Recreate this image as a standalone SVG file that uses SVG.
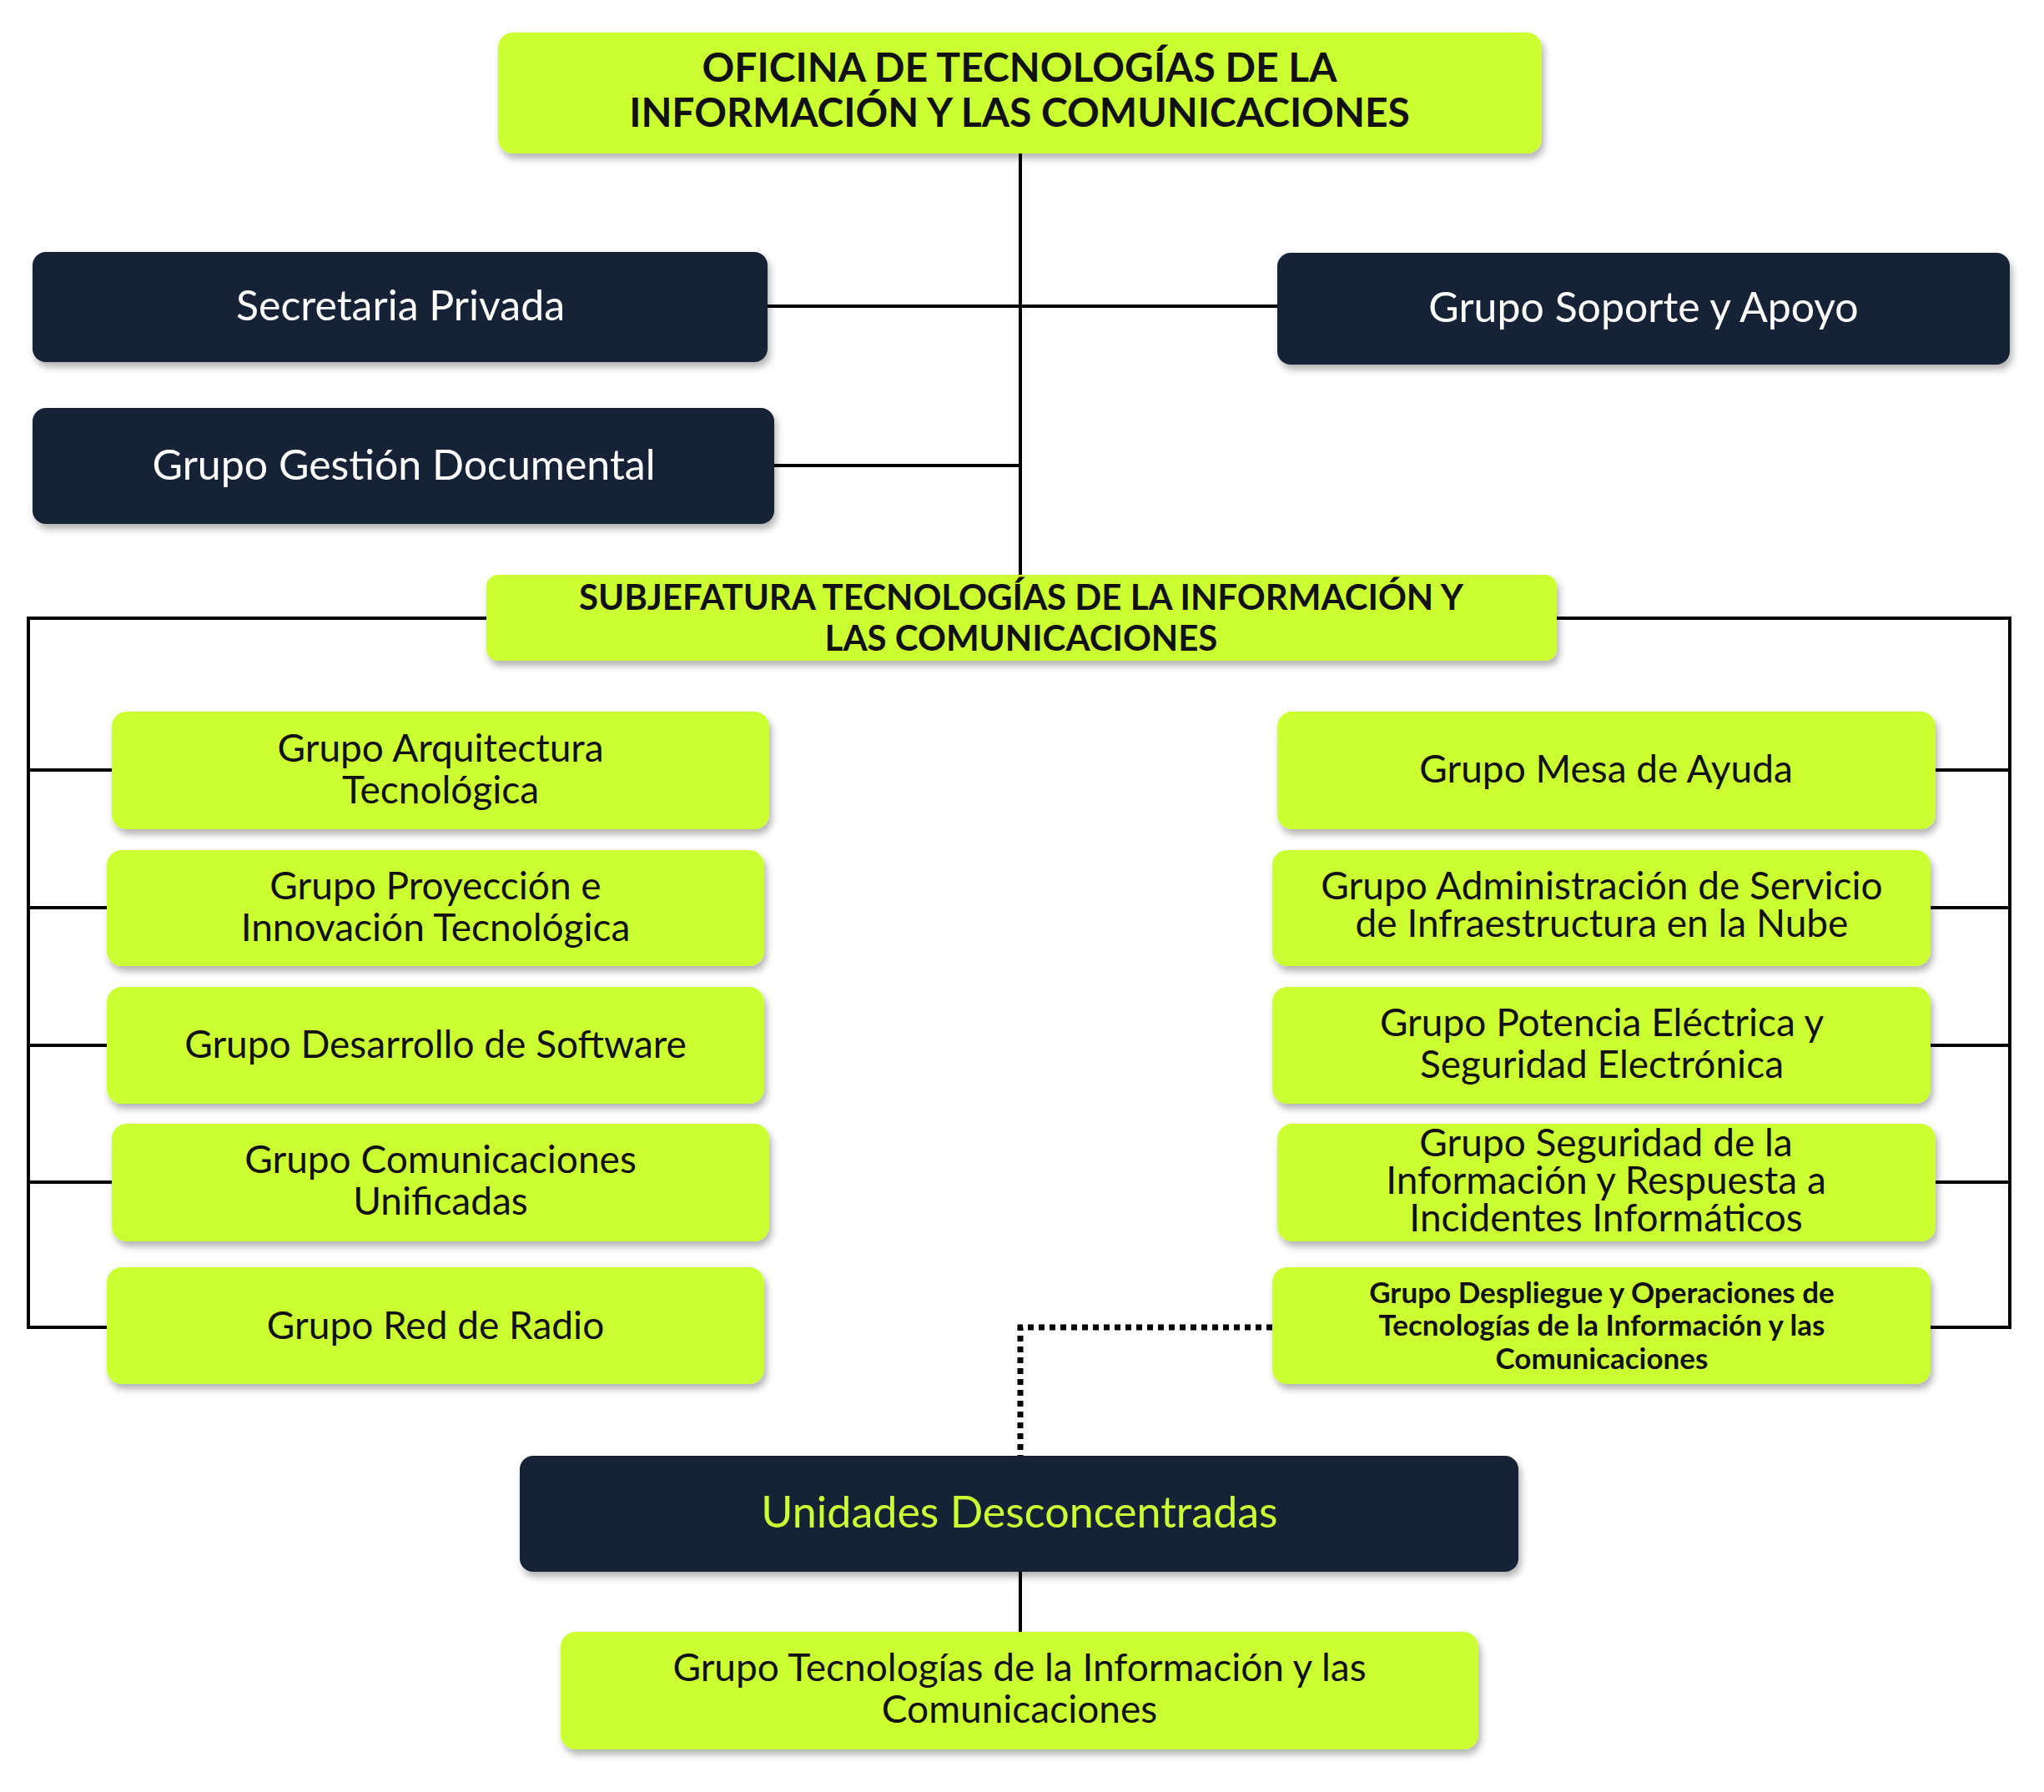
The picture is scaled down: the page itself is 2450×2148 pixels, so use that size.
<svg xmlns="http://www.w3.org/2000/svg" width="2450" height="2148" viewBox="0 0 2450 2148">
<defs>
<filter id="sh" x="-5%" y="-10%" width="112%" height="130%"><feDropShadow dx="3" dy="6" stdDeviation="4" flood-color="#000" flood-opacity="0.3"/></filter>
<style>
.g{fill:#CCFF33;filter:url(#sh)}
.n{fill:#182035;filter:url(#sh)}
text{font-family:"Lato","Open Sans",sans-serif;text-anchor:middle}
.t{font-size:46px;fill:#111}
.w{font-size:50px;fill:#fff}
.b{font-weight:bold;fill:#111}
.l{stroke:#000;stroke-width:4;fill:none}
.d{stroke:#000;stroke-width:7;fill:none;stroke-dasharray:7 6}
</style>
</defs>
<rect width="2450" height="2148" fill="#fff"/>
<g id="connectors">
<path class="l" d="M1223 184V690M920 367H1531M928 558H1223"/>
<path class="l" d="M583 741H34V1591H128M34 923H134M34 1088H128M34 1253H128M34 1417H134"/>
<path class="l" d="M1866 741H2409V1591H2314M2409 923H2320M2409 1088H2314M2409 1253H2314M2409 1417H2320"/>
<path class="d" d="M1525 1591H1223V1745"/>
<path class="l" d="M1223 1884V1956"/>
</g>
<g id="oficina"><rect class="g" x="597" y="39" width="1251" height="145" rx="18"/><text class="b" font-size="48" x="1222" y="98">OFICINA DE TECNOLOGÍAS DE LA</text><text class="b" font-size="48" x="1222" y="152">INFORMACIÓN Y LAS COMUNICACIONES</text></g>
<g id="secretaria"><rect class="n" x="39" y="302" width="881" height="132" rx="16"/><text class="w" x="480" y="384">Secretaria Privada</text></g>
<g id="soporte"><rect class="n" x="1531" y="303" width="878" height="134" rx="16"/><text class="w" x="1970" y="386">Grupo Soporte y Apoyo</text></g>
<g id="gestion"><rect class="n" x="39" y="489" width="889" height="139" rx="16"/><text class="w" x="484" y="575">Grupo Gestión Documental</text></g>
<g id="subjefatura"><rect class="g" x="583" y="689" width="1283" height="103" rx="14"/><text class="b" font-size="42" x="1224" y="731">SUBJEFATURA TECNOLOGÍAS DE LA INFORMACIÓN Y</text><text class="b" font-size="42" x="1224" y="780">LAS COMUNICACIONES</text></g>
<g id="l1"><rect class="g" x="134" y="853" width="788" height="141" rx="18"/><text class="t" x="528" y="913">Grupo Arquitectura</text><text class="t" x="528" y="963">Tecnológica</text></g>
<g id="l2"><rect class="g" x="128" y="1019" width="788" height="139" rx="18"/><text class="t" x="522" y="1078">Grupo Proyección e</text><text class="t" x="522" y="1128">Innovación Tecnológica</text></g>
<g id="l3"><rect class="g" x="128" y="1183" width="788" height="140" rx="18"/><text class="t" x="522" y="1268">Grupo Desarrollo de Software</text></g>
<g id="l4"><rect class="g" x="134" y="1347" width="788" height="141" rx="18"/><text class="t" x="528" y="1406">Grupo Comunicaciones</text><text class="t" x="528" y="1456">Unificadas</text></g>
<g id="l5"><rect class="g" x="128" y="1519" width="788" height="140" rx="18"/><text class="t" x="522" y="1605">Grupo Red de Radio</text></g>
<g id="r1"><rect class="g" x="1531" y="853" width="789" height="141" rx="18"/><text class="t" x="1925" y="938">Grupo Mesa de Ayuda</text></g>
<g id="r2"><rect class="g" x="1525" y="1019" width="789" height="139" rx="18"/><text class="t" font-size="37" x="1920" y="1078">Grupo Administración de Servicio</text><text class="t" font-size="37" x="1920" y="1123">de Infraestructura en la Nube</text></g>
<g id="r3"><rect class="g" x="1525" y="1183" width="789" height="140" rx="18"/><text class="t" x="1920" y="1242">Grupo Potencia Eléctrica y</text><text class="t" x="1920" y="1292">Seguridad Electrónica</text></g>
<g id="r4"><rect class="g" x="1531" y="1347" width="789" height="141" rx="18"/><text class="t" font-size="37" x="1925" y="1386">Grupo Seguridad de la</text><text class="t" font-size="37" x="1925" y="1431">Información y Respuesta a</text><text class="t" font-size="37" x="1925" y="1476">Incidentes Informáticos</text></g>
<g id="r5"><rect class="g" x="1525" y="1519" width="789" height="140" rx="18"/><text class="b" font-size="35" x="1920" y="1562">Grupo Despliegue y Operaciones de</text><text class="b" font-size="35" x="1920" y="1601">Tecnologías de la Información y las</text><text class="b" font-size="35" x="1920" y="1641">Comunicaciones</text></g>
<g id="unidades"><rect class="n" x="623" y="1745" width="1197" height="139" rx="16"/><text font-size="52" fill="#CCFF33" x="1222" y="1831">Unidades Desconcentradas</text></g>
<g id="grupotic"><rect class="g" x="672" y="1956" width="1100" height="141" rx="18"/><text class="t" x="1222" y="2015">Grupo Tecnologías de la Información y las</text><text class="t" x="1222" y="2065">Comunicaciones</text></g>
</svg>
